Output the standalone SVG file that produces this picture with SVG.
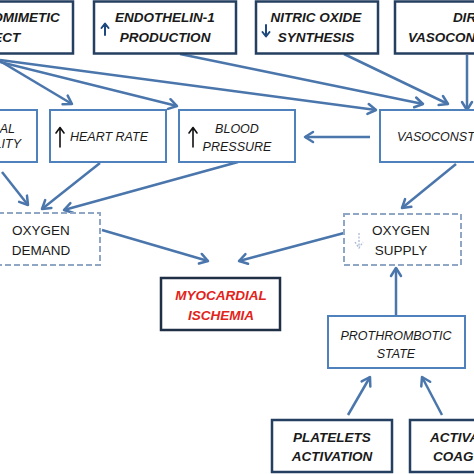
<svg xmlns="http://www.w3.org/2000/svg" width="474" height="474" viewBox="0 0 474 474">
<style>
.dk{fill:#fff;stroke:#243F60;stroke-width:2.5}
.lt{fill:#fff;stroke:#4F81BD;stroke-width:2}
.ds{fill:#fff;stroke:#8FA7C5;stroke-width:2;stroke-dasharray:6 3}
.bi{font-family:"Liberation Sans",Arial,sans-serif;font-weight:bold;font-style:italic;font-size:13.5px;fill:#1a1a1a;text-anchor:middle}
.it{font-family:"Liberation Sans",Arial,sans-serif;font-style:italic;font-size:12.5px;fill:#1a1a1a;text-anchor:middle}
.rg{font-family:"Liberation Sans",Arial,sans-serif;font-size:13.5px;fill:#1a1a1a;text-anchor:middle}
.red{fill:#E2231A}
.ka{fill:none;stroke:#111;stroke-width:1.6;stroke-linecap:round;stroke-linejoin:round}
.ba{fill:none;stroke:#1F497D;stroke-width:2;stroke-linecap:round;stroke-linejoin:round}
.cn{stroke:#4A76AC;stroke-width:2.5;fill:none;marker-end:url(#ah)}
</style>
<defs>
<marker id="ah" markerUnits="userSpaceOnUse" markerWidth="14" markerHeight="14" refX="11" refY="7" orient="auto">
<path d="M3,2 L11,7 L3,12" fill="none" stroke="#4A76AC" stroke-width="2.5" stroke-linecap="round" stroke-linejoin="round"/>
</marker>
</defs>
<rect width="474" height="474" fill="#fff"/>
<g id="connectors">
<line class="cn" x1="0" y1="61" x2="72" y2="104"/>
<line class="cn" x1="0" y1="62" x2="177" y2="106"/>
<line class="cn" x1="0" y1="60" x2="376" y2="110"/>
<line class="cn" x1="180" y1="54" x2="423" y2="104"/>
<line class="cn" x1="344" y1="54" x2="448" y2="104"/>
<line class="cn" x1="467" y1="55" x2="467" y2="110"/>
<line class="cn" x1="370" y1="137" x2="305" y2="137"/>
<line class="cn" x1="456" y1="164" x2="402" y2="208"/>
<line class="cn" x1="2" y1="172" x2="28" y2="205"/>
<line class="cn" x1="100" y1="163" x2="42" y2="209"/>
<line class="cn" x1="238" y1="162" x2="64" y2="210"/>
<line class="cn" x1="102" y1="230" x2="208" y2="261"/>
<line class="cn" x1="344" y1="233" x2="239" y2="261"/>
<line class="cn" x1="396" y1="316" x2="396" y2="268"/>
<line class="cn" x1="348" y1="415" x2="370" y2="377"/>
<line class="cn" x1="442" y1="415" x2="422" y2="377"/>
</g>
<g id="sympathomimetic">
<rect class="dk" x="-90" y="1.5" width="163" height="52"/>
<text class="bi" x="-6" y="22">SYMPATHOMIMETIC</text>
<text class="bi" x="-6" y="42">EFFECT</text>
</g>
<g id="endothelin">
<rect class="dk" x="94" y="1.5" width="142" height="52"/>
<path class="ba" d="M105,35 L105,24 M101.5,28 L105,23.5 L108.5,28"/>
<text class="bi" x="165" y="22">ENDOTHELIN-1</text>
<text class="bi" x="165" y="42">PRODUCTION</text>
</g>
<g id="nitric">
<rect class="dk" x="256" y="1.5" width="122" height="52"/>
<path class="ba" d="M266,25 L266,36 M262.5,32 L266,36.5 L269.5,32"/>
<text class="bi" x="316" y="22">NITRIC OXIDE</text>
<text class="bi" x="316" y="42">SYNTHESIS</text>
</g>
<g id="directvaso">
<rect class="dk" x="395" y="1.5" width="165" height="52"/>
<text class="bi" x="478" y="22">DIRECT</text>
<text class="bi" x="478" y="42">VASOCONSTRICTION</text>
</g>
<g id="contractility">
<rect class="lt" x="-100" y="110" width="137" height="52"/>
<text class="it" x="15" y="133" style="text-anchor:end">CAL</text>
<text class="it" x="21" y="148" style="text-anchor:end">LITY</text>
</g>
<g id="heartrate">
<rect class="lt" x="50" y="110" width="116" height="52"/>
<path class="ka" d="M60,147 L60,128 M56,133 L60,127.5 L64,133"/>
<text class="it" x="109" y="141">HEART RATE</text>
</g>
<g id="bloodpressure">
<rect class="lt" x="179" y="110" width="116" height="52"/>
<path class="ka" d="M193,147 L193,128 M189,133 L193,127.5 L197,133"/>
<text class="it" x="237" y="133">BLOOD</text>
<text class="it" x="237" y="151">PRESSURE</text>
</g>
<g id="vasoconstriction">
<rect class="lt" x="380" y="110" width="160" height="52"/>
<text class="it" x="397" y="141" style="text-anchor:start">VASOCONSTRICTION</text>
</g>
<g id="oxygendemand">
<rect class="ds" x="-20" y="213" width="120" height="52"/>
<text class="rg" x="41" y="235">OXYGEN</text>
<text class="rg" x="41" y="255">DEMAND</text>
</g>
<g id="oxygensupply">
<rect class="ds" x="344" y="214" width="117" height="51"/>
<path d="M359,233 L359,247 M355,242 L359,248 L363,242" fill="none" stroke="#A9BCD4" stroke-width="1.3" stroke-dasharray="2 1.5"/>
<text class="rg" x="401" y="235">OXYGEN</text>
<text class="rg" x="401" y="255">SUPPLY</text>
</g>
<g id="ischemia">
<rect class="dk" x="161" y="278" width="119" height="52" style="stroke:#1F2F45"/>
<text class="bi red" x="221" y="300">MYOCARDIAL</text>
<text class="bi red" x="221" y="320">ISCHEMIA</text>
</g>
<g id="prothrombotic">
<rect class="lt" x="328" y="316" width="137" height="52"/>
<text class="it" x="396" y="340">PROTHROMBOTIC</text>
<text class="it" x="396" y="358">STATE</text>
</g>
<g id="platelets">
<rect class="dk" x="272" y="420" width="120" height="52"/>
<text class="bi" x="332" y="442">PLATELETS</text>
<text class="bi" x="332" y="461">ACTIVATION</text>
</g>
<g id="coagulation">
<rect class="dk" x="410" y="420" width="130" height="52"/>
<text class="bi" x="430" y="442" style="text-anchor:start">ACTIVATION</text>
<text class="bi" x="433" y="461" style="text-anchor:start">COAGULATION</text>
</g>
</svg>
